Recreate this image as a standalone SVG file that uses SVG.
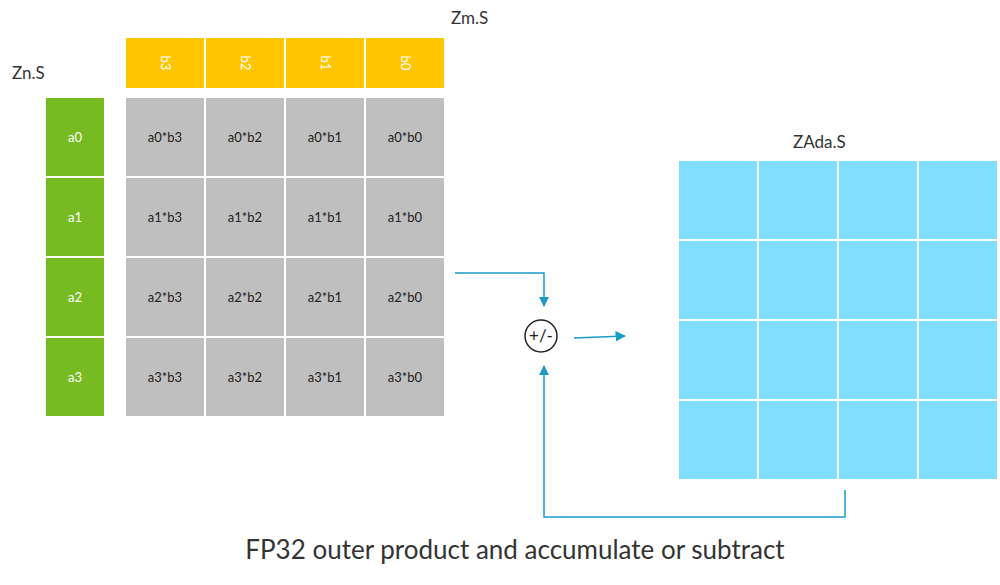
<svg xmlns="http://www.w3.org/2000/svg" width="1000" height="585" viewBox="0 0 1000 585">
<style>
text{font-family:Lato,"Liberation Sans",sans-serif}
.y{fill:#ffc600;stroke:#fff;stroke-width:2}
.g{fill:#bfbfbf;stroke:#fff;stroke-width:2}
.gr{fill:#77bb22;stroke:#fff;stroke-width:2}
.c{fill:#80dfff;stroke:#fff;stroke-width:2}
.t{font-size:13px;fill:#222;text-anchor:middle}
.w{font-size:13px;fill:#fff;text-anchor:middle}
.l{font-size:17px;fill:#333}
.con{fill:none;stroke:#1a9cc8;stroke-width:1.5}
</style>
<defs><marker id="a" viewBox="0 0 10 10" refX="9" refY="5" markerWidth="7" markerHeight="7" orient="auto"><path d="M0,0L10,5L0,10z" fill="#1a9cc8"/></marker></defs>
<text class="l" x="451" y="24">Zm.S</text>
<text class="l" x="12" y="79">Zn.S</text>
<text class="l" x="793" y="148">ZAda.S</text>
<g id="zm">
<rect class="y" x="125" y="37" width="80" height="52"/><rect class="y" x="205" y="37" width="80" height="52"/><rect class="y" x="285" y="37" width="80" height="52"/><rect class="y" x="365" y="37" width="80" height="52"/>
<text class="w" transform="translate(161,63) rotate(90)">b3</text>
<text class="w" transform="translate(241,63) rotate(90)">b2</text>
<text class="w" transform="translate(321,63) rotate(90)">b1</text>
<text class="w" transform="translate(401,63) rotate(90)">b0</text>
</g>
<g id="zn">
<rect class="gr" x="45" y="97" width="60" height="80"/><rect class="gr" x="45" y="177" width="60" height="80"/><rect class="gr" x="45" y="257" width="60" height="80"/><rect class="gr" x="45" y="337" width="60" height="80"/>
<text class="w" x="75" y="142">a0</text><text class="w" x="75" y="222">a1</text><text class="w" x="75" y="302">a2</text><text class="w" x="75" y="382">a3</text>
</g>
<g id="prod">
<rect class="g" x="125" y="97" width="80" height="80"/><rect class="g" x="205" y="97" width="80" height="80"/><rect class="g" x="285" y="97" width="80" height="80"/><rect class="g" x="365" y="97" width="80" height="80"/>
<rect class="g" x="125" y="177" width="80" height="80"/><rect class="g" x="205" y="177" width="80" height="80"/><rect class="g" x="285" y="177" width="80" height="80"/><rect class="g" x="365" y="177" width="80" height="80"/>
<rect class="g" x="125" y="257" width="80" height="80"/><rect class="g" x="205" y="257" width="80" height="80"/><rect class="g" x="285" y="257" width="80" height="80"/><rect class="g" x="365" y="257" width="80" height="80"/>
<rect class="g" x="125" y="337" width="80" height="80"/><rect class="g" x="205" y="337" width="80" height="80"/><rect class="g" x="285" y="337" width="80" height="80"/><rect class="g" x="365" y="337" width="80" height="80"/>
<text class="t" x="165" y="142">a0*b3</text><text class="t" x="245" y="142">a0*b2</text><text class="t" x="325" y="142">a0*b1</text><text class="t" x="405" y="142">a0*b0</text>
<text class="t" x="165" y="222">a1*b3</text><text class="t" x="245" y="222">a1*b2</text><text class="t" x="325" y="222">a1*b1</text><text class="t" x="405" y="222">a1*b0</text>
<text class="t" x="165" y="302">a2*b3</text><text class="t" x="245" y="302">a2*b2</text><text class="t" x="325" y="302">a2*b1</text><text class="t" x="405" y="302">a2*b0</text>
<text class="t" x="165" y="382">a3*b3</text><text class="t" x="245" y="382">a3*b2</text><text class="t" x="325" y="382">a3*b1</text><text class="t" x="405" y="382">a3*b0</text>
</g>
<g id="zada">
<rect class="c" x="678" y="160" width="80" height="80"/><rect class="c" x="758" y="160" width="80" height="80"/><rect class="c" x="838" y="160" width="80" height="80"/><rect class="c" x="918" y="160" width="80" height="80"/>
<rect class="c" x="678" y="240" width="80" height="80"/><rect class="c" x="758" y="240" width="80" height="80"/><rect class="c" x="838" y="240" width="80" height="80"/><rect class="c" x="918" y="240" width="80" height="80"/>
<rect class="c" x="678" y="320" width="80" height="80"/><rect class="c" x="758" y="320" width="80" height="80"/><rect class="c" x="838" y="320" width="80" height="80"/><rect class="c" x="918" y="320" width="80" height="80"/>
<rect class="c" x="678" y="400" width="80" height="80"/><rect class="c" x="758" y="400" width="80" height="80"/><rect class="c" x="838" y="400" width="80" height="80"/><rect class="c" x="918" y="400" width="80" height="80"/>
</g>
<g id="op">
<circle cx="541" cy="336" r="16" fill="#fff" stroke="#222" stroke-width="1.5"/>
<text x="541" y="342" font-size="17" fill="#222" text-anchor="middle">+/-</text>
</g>
<g id="connectors">
<path class="con" d="M455,273H544V306" marker-end="url(#a)"/>
<path class="con" d="M574,338L625,336" marker-end="url(#a)"/>
<path class="con" d="M845,490V517H544V366" marker-end="url(#a)"/>
</g>
<text x="515" y="559" font-size="26" fill="#333" text-anchor="middle">FP32 outer product and accumulate or subtract</text>
</svg>
